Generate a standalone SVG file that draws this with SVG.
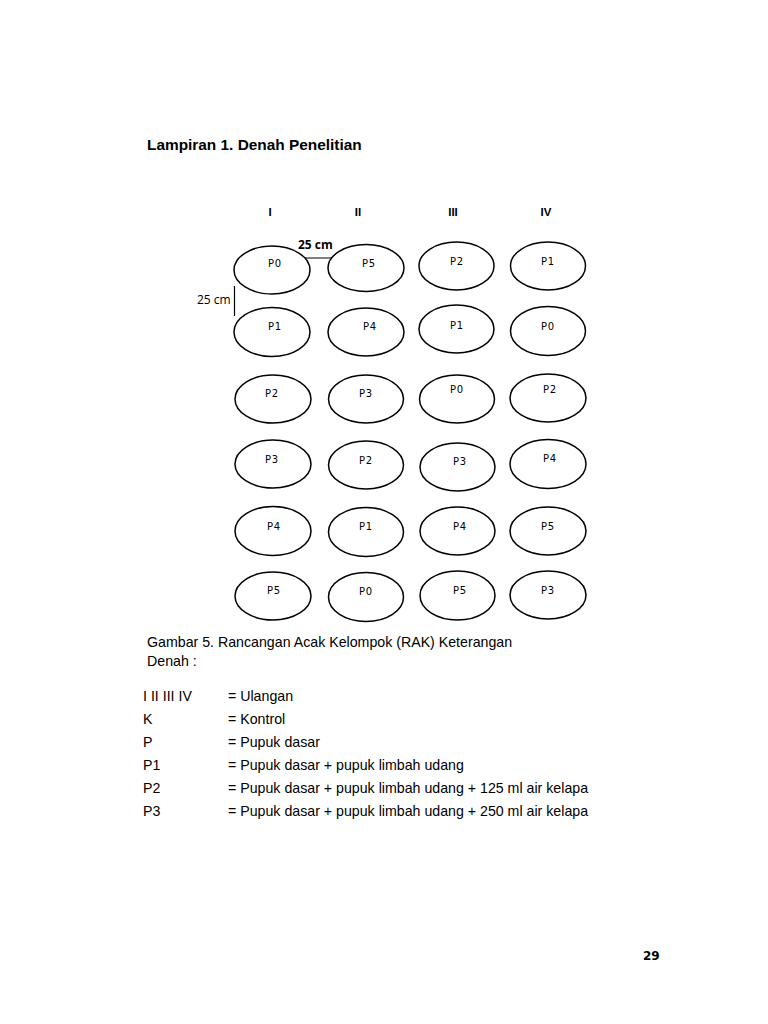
<svg xmlns="http://www.w3.org/2000/svg" width="768" height="1024" viewBox="0 0 768 1024">
<style>
.bg{fill:#ffffff}
.plot ellipse{fill:#ffffff;stroke:#000;stroke-width:1.5}
.plot text{font-family:"DejaVu Sans",sans-serif;font-size:10px;letter-spacing:0.8px;fill:#000;text-anchor:middle}
.rom{font-family:"Liberation Sans",Arial,sans-serif;font-size:11.5px;font-weight:bold;text-anchor:middle;fill:#000}
.dim{font-family:"Open Sans","Liberation Sans",sans-serif;font-size:12px;fill:#000}
.title{font-family:"Liberation Sans",Arial,sans-serif;font-size:15.4px;font-weight:bold;fill:#000}
.body{font-family:"Liberation Sans",Arial,sans-serif;font-size:14.2px;fill:#000}
.conn line{stroke:#000;stroke-width:1.2}
</style>
<rect class="bg" x="0" y="0" width="768" height="1024"/>
<text class="title" x="147" y="150">Lampiran 1. Denah Penelitian</text>
<g id="headers">
<text class="rom" x="270" y="216">I</text>
<text class="rom" x="358" y="216">II</text>
<text class="rom" x="453" y="216">III</text>
<text class="rom" x="546" y="216">IV</text>
</g>
<g id="dimensions">
<text class="dim" x="298" y="249" font-weight="bold">25 cm</text>
<text class="dim" x="197" y="304">25 cm</text>
</g>
<g class="conn" id="connectors">
<line x1="300" y1="258" x2="336" y2="258"/>
<line x1="234.5" y1="286" x2="234.5" y2="316"/>
</g>
<g class="plot">
<g id="r1c1"><ellipse cx="272" cy="270" rx="38" ry="24"/><text x="275" y="267">P0</text></g>
<g id="r1c2"><ellipse cx="366" cy="268" rx="38" ry="23.5"/><text x="369" y="267">P5</text></g>
<g id="r1c3"><ellipse cx="456.5" cy="266" rx="37.5" ry="24"/><text x="457" y="265">P2</text></g>
<g id="r1c4"><ellipse cx="548" cy="266" rx="37.5" ry="24"/><text x="548" y="265">P1</text></g>

<g id="r2c1"><ellipse cx="272" cy="332" rx="38" ry="24.5"/><text x="275" y="330">P1</text></g>
<g id="r2c2"><ellipse cx="366" cy="332" rx="38" ry="24"/><text x="370" y="330">P4</text></g>
<g id="r2c3"><ellipse cx="456.5" cy="329" rx="37.5" ry="24"/><text x="457" y="329">P1</text></g>
<g id="r2c4"><ellipse cx="548" cy="331" rx="37.5" ry="24.5"/><text x="548" y="330">P0</text></g>

<g id="r3c1"><ellipse cx="273" cy="399" rx="38" ry="24"/><text x="272" y="397">P2</text></g>
<g id="r3c2"><ellipse cx="366" cy="399" rx="37.5" ry="24"/><text x="366" y="397">P3</text></g>
<g id="r3c3"><ellipse cx="457" cy="399" rx="37.5" ry="24"/><text x="457" y="393">P0</text></g>
<g id="r3c4"><ellipse cx="548" cy="398" rx="38" ry="24"/><text x="550" y="393">P2</text></g>

<g id="r4c1"><ellipse cx="273" cy="464" rx="38" ry="24"/><text x="272" y="463">P3</text></g>
<g id="r4c2"><ellipse cx="366" cy="465" rx="37.5" ry="24"/><text x="366" y="464">P2</text></g>
<g id="r4c3"><ellipse cx="457.5" cy="467" rx="37.5" ry="24"/><text x="460" y="465">P3</text></g>
<g id="r4c4"><ellipse cx="548" cy="464" rx="38" ry="24.5"/><text x="550" y="462">P4</text></g>

<g id="r5c1"><ellipse cx="273" cy="531" rx="38" ry="24.5"/><text x="274" y="530">P4</text></g>
<g id="r5c2"><ellipse cx="366" cy="532" rx="37.5" ry="24.5"/><text x="366" y="530">P1</text></g>
<g id="r5c3"><ellipse cx="457.5" cy="531" rx="37.5" ry="24"/><text x="460" y="530">P4</text></g>
<g id="r5c4"><ellipse cx="548" cy="531" rx="38" ry="24"/><text x="548" y="530">P5</text></g>

<g id="r6c1"><ellipse cx="273" cy="596" rx="38" ry="24"/><text x="274" y="594">P5</text></g>
<g id="r6c2"><ellipse cx="366" cy="597" rx="37.5" ry="24.5"/><text x="366" y="595">P0</text></g>
<g id="r6c3"><ellipse cx="457.5" cy="595.5" rx="37.5" ry="24.5"/><text x="460" y="594">P5</text></g>
<g id="r6c4"><ellipse cx="548" cy="595" rx="38" ry="24"/><text x="548" y="594">P3</text></g>
</g>
<g id="caption">
<text class="body" x="147" y="647">Gambar 5. Rancangan Acak Kelompok (RAK) Keterangan</text>
<text class="body" x="147" y="666">Denah :</text>
</g>
<g id="legend">
<text class="body" x="143" y="701">I II III IV</text><text class="body" x="228" y="701">= Ulangan</text>
<text class="body" x="143" y="724">K</text><text class="body" x="228" y="724">= Kontrol</text>
<text class="body" x="143" y="747">P</text><text class="body" x="228" y="747">= Pupuk dasar</text>
<text class="body" x="143" y="770">P1</text><text class="body" x="228" y="770">= Pupuk dasar + pupuk limbah udang</text>
<text class="body" x="143" y="793">P2</text><text class="body" x="228" y="793">= Pupuk dasar + pupuk limbah udang + 125 ml air kelapa</text>
<text class="body" x="143" y="816">P3</text><text class="body" x="228" y="816">= Pupuk dasar + pupuk limbah udang + 250 ml air kelapa</text>
</g>
<text x="643" y="960" font-family="DejaVu Sans, sans-serif" font-size="12" font-weight="bold" fill="#000">29</text>
</svg>
